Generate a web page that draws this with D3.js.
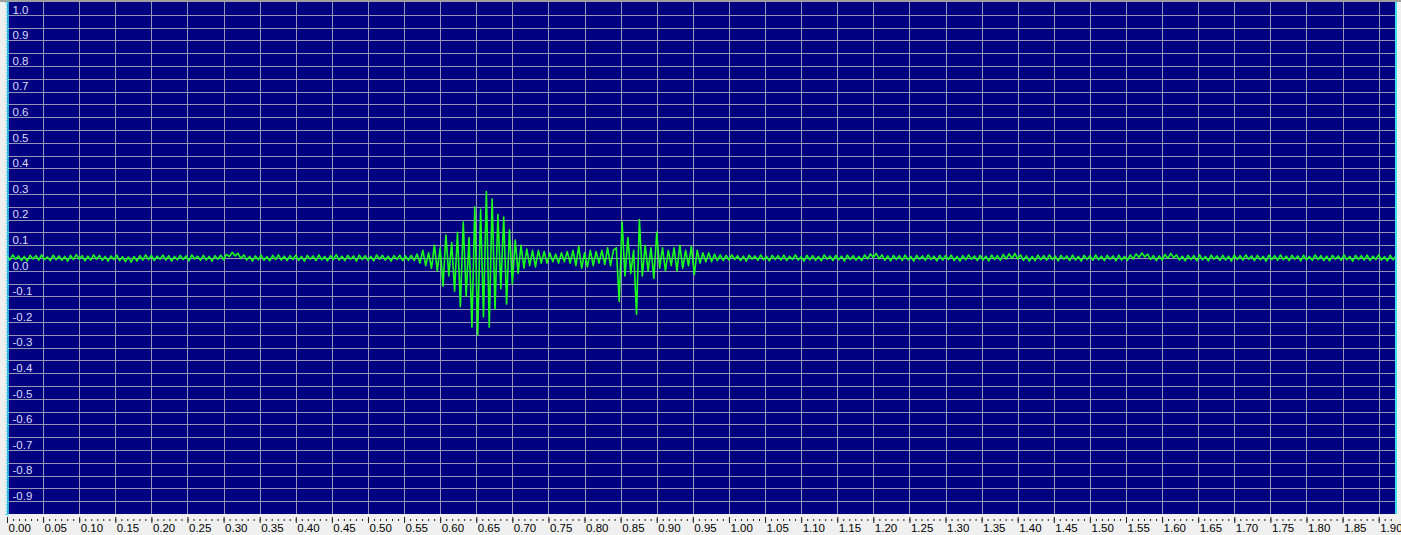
<!DOCTYPE html>
<html>
<head>
<meta charset="utf-8">
<script src="https://cdn.jsdelivr.net/npm/d3@7"></script>
<style>
  html, body { margin: 0; padding: 0; background: #f0f0f0; overflow: hidden; }
  svg { display: block; font-family: "Liberation Sans", Arial, sans-serif; }
</style>
</head>
<body>
<svg width="1401" height="535"></svg>
<script>
// waveform samples, one every sampleStep seconds, starting at t = 0
var sampleStep = 0.004;
var samples = [
  0.01,-0.008,0.012,-0.005,0.008,-0.01,0.006,-0.012,0.01,-0.004,0.009,-0.008,0.012,-0.006,0.004,-0.01,0.011,-0.007,0.008,-0.009,
  0.006,-0.012,0.01,-0.006,0.013,-0.004,0.009,-0.011,0.007,-0.008,0.012,-0.005,0.01,-0.009,0.006,-0.012,0.008,-0.006,0.011,-0.01,
  0.005,-0.014,0.004,-0.016,0.006,-0.012,0.009,-0.008,0.012,-0.006,0.01,-0.01,0.007,-0.005,0.011,-0.008,0.009,-0.012,0.006,-0.007,
  0.01,-0.006,0.008,-0.011,0.012,-0.004,0.007,-0.009,0.01,-0.008,0.006,-0.012,0.009,-0.005,0.011,-0.007,0.014,0.005,0.022,0.008,
  0.018,-0.002,0.012,-0.008,0.006,-0.012,0.008,-0.007,0.011,-0.009,0.005,-0.011,0.01,-0.006,0.012,-0.008,0.007,-0.01,0.009,-0.006,
  0.011,-0.009,0.006,-0.012,0.01,-0.005,0.008,-0.01,0.012,-0.007,0.006,-0.011,0.009,-0.006,0.013,-0.008,0.007,-0.01,0.01,-0.005,
  0.008,-0.012,0.011,-0.006,0.009,-0.009,0.006,-0.011,0.012,-0.005,0.01,-0.008,0.007,-0.012,0.009,-0.006,0.011,-0.01,0.008,-0.009,
  // first burst
  0.01,-0.01,0.015,-0.02,0.03,-0.03,0.02,-0.04,0.05,-0.05,0.04,-0.11,0.09,-0.07,0.06,-0.13,0.10,-0.19,0.14,-0.15,
  0.08,-0.27,0.20,-0.30,0.19,-0.23,0.26,-0.27,0.23,-0.20,0.17,-0.12,0.16,-0.18,0.11,-0.10,0.07,-0.06,0.05,-0.04,
  0.035,-0.03,0.03,-0.035,0.03,-0.02,0.025,-0.02,0.02,-0.015,0.015,
  // between bursts and second burst
  -0.02,0.02,-0.015,0.025,-0.02,0.03,-0.03,0.045,-0.04,0.02,-0.035,0.03,-0.03,0.025,-0.02,0.03,-0.025,0.04,-0.03,0.03,
  0.04,-0.17,0.14,-0.07,0.08,-0.06,0.03,-0.22,0.15,-0.07,0.05,-0.05,0.04,-0.08,0.10,-0.04,0.04,-0.05,0.03,-0.03,
  0.04,-0.05,0.05,-0.04,0.03,-0.03,0.045,-0.065,0.03,-0.02,0.02,-0.015,0.02,-0.015,0.015,-0.01,0.012,-0.01,
  // quiet tail
  0.01,-0.008,0.012,-0.006,0.009,-0.01,0.007,-0.012,0.011,-0.005,0.008,-0.009,0.012,-0.007,0.006,-0.011,0.01,-0.006,0.009,-0.008,
  0.011,-0.01,0.007,-0.006,0.012,-0.008,0.005,-0.012,0.01,-0.007,0.009,-0.009,0.006,-0.011,0.012,-0.005,0.008,-0.01,0.01,-0.007,
  0.007,-0.012,0.011,-0.006,0.009,-0.008,0.006,-0.01,0.012,-0.004,0.016,0.002,0.018,-0.003,0.012,-0.009,0.008,-0.011,0.01,-0.006,
  0.009,-0.01,0.011,-0.007,0.006,-0.012,0.01,-0.005,0.008,-0.009,0.012,-0.006,0.007,-0.011,0.01,-0.008,0.009,-0.006,0.011,-0.01,
  0.006,-0.012,0.009,-0.007,0.012,-0.005,0.008,-0.01,0.01,-0.008,0.007,-0.011,0.011,-0.006,0.009,-0.009,0.014,-0.004,0.016,-0.002,
  0.018,-0.004,0.012,-0.009,0.008,-0.012,0.006,-0.01,0.011,-0.007,0.009,-0.008,0.012,-0.006,0.007,-0.011,0.01,-0.005,0.008,-0.01,
  0.011,-0.008,0.006,-0.012,0.01,-0.006,0.009,-0.009,0.012,-0.007,0.007,-0.01,0.01,-0.005,0.008,-0.011,0.011,-0.008,0.006,-0.009,
  0.012,-0.004,0.016,0.002,0.02,0.004,0.015,-0.006,0.009,-0.01,0.008,-0.008,0.014,-0.002,0.018,0.001,0.012,-0.008,0.007,-0.011,
  0.01,-0.006,0.009,-0.01,0.012,-0.007,0.006,-0.011,0.011,-0.005,0.008,-0.009,0.01,-0.008,0.007,-0.012,0.011,-0.006,0.009,-0.008,
  0.012,-0.005,0.008,-0.01,0.01,-0.007,0.006,-0.012,0.011,-0.006,0.009,-0.009,0.012,-0.007,0.007,-0.01,0.01,-0.005,0.008,-0.011,
  0.011,-0.008,0.006,-0.009,0.012,-0.006,0.009,-0.01,0.007,-0.011,0.01,-0.005,0.008,-0.009,0.012,-0.007,0.006,-0.012,0.01,-0.006,
  0.009,-0.008,0.011,-0.01,0.007,-0.006,0.012,-0.008,0.005,-0.011,0.01,-0.007,0.008
];

var xTickLabels = ["0.00","0.05","0.10","0.15","0.20","0.25","0.30","0.35","0.40","0.45",
  "0.50","0.55","0.60","0.65","0.70","0.75","0.80","0.85","0.90","0.95",
  "1.00","1.05","1.10","1.15","1.20","1.25","1.30","1.35","1.40","1.45",
  "1.50","1.55","1.60","1.65","1.70","1.75","1.80","1.85","1.90"];
var yTickLabels = ["1.0","0.9","0.8","0.7","0.6","0.5","0.4","0.3","0.2","0.1","0.0",
  "-0.1","-0.2","-0.3","-0.4","-0.5","-0.6","-0.7","-0.8","-0.9"];

var timeDomain = [0, 1.924];
var ampDomain = [-1, 1];
var gridStep = 0.05;

var svg = d3.select("svg"),
    plot = { left: 7, right: 1396, top: 2, bottom: 514 };

var x = d3.scaleLinear().domain(timeDomain).range([plot.left, plot.right]);
var y = d3.scaleLinear().domain(ampDomain).range([plot.bottom, plot.top]);

// top border strip
svg.append("rect")
    .attr("x", 0).attr("y", 0)
    .attr("width", 1401).attr("height", plot.top)
    .attr("fill", "#a0a0a0");

svg.append("rect")
    .attr("x", plot.left).attr("y", plot.top)
    .attr("width", plot.right - plot.left)
    .attr("height", plot.bottom - plot.top)
    .attr("fill", "#000080");

// grid every 0.05 both ways
var vGrid = d3.range(gridStep, timeDomain[1], gridStep);
var hGrid = d3.range(ampDomain[0] + gridStep, ampDomain[1] - 1e-9, gridStep);

svg.append("g")
    .attr("stroke", "#9696b4")
    .attr("stroke-width", 1)
    .selectAll("line")
    .data(vGrid)
    .enter().append("line")
    .attr("x1", function (d) { return Math.round(x(d)) + 0.5; })
    .attr("x2", function (d) { return Math.round(x(d)) + 0.5; })
    .attr("y1", plot.top)
    .attr("y2", plot.bottom);

svg.append("g")
    .attr("stroke", "#9696b4")
    .attr("stroke-width", 1)
    .selectAll("line")
    .data(hGrid)
    .enter().append("line")
    .attr("x1", plot.left)
    .attr("x2", plot.right)
    .attr("y1", function (d) { return Math.round(y(d)) + 0.5; })
    .attr("y2", function (d) { return Math.round(y(d)) + 0.5; });

// amplitude labels sit just under their grid line
svg.append("g")
    .selectAll("text")
    .data(yTickLabels)
    .enter().append("text")
    .attr("x", 12.5)
    .attr("y", function (d) { return y(+d) + 11.5; })
    .attr("fill", "#dcdcf8")
    .style("font-size", "11.5px")
    .text(function (d) { return d; });

// waveform
var wave = d3.line()
    .x(function (d, i) { return x(i * sampleStep); })
    .y(function (d) { return y(d); });

svg.append("path")
    .datum(samples)
    .attr("fill", "none")
    .attr("stroke", "#1cff1c")
    .attr("stroke-width", 1.6)
    .attr("stroke-linejoin", "round")
    .attr("d", wave);

// cyan side rulers
var leftAxis = d3.axisLeft(y)
    .tickValues(d3.range(ampDomain[0], ampDomain[1] + 1e-9, 0.0125))
    .tickSize(2)
    .tickFormat("");
svg.append("g")
    .attr("transform", "translate(" + (plot.left + 0.5) + ",0)")
    .call(leftAxis)
    .call(function (g) {
        g.select(".domain").attr("stroke", "#40e0f0").attr("stroke-width", 1.5);
        g.selectAll(".tick line").attr("stroke", "#40e0f0");
    });

svg.append("line")
    .attr("x1", plot.right).attr("x2", plot.right)
    .attr("y1", plot.top).attr("y2", plot.bottom)
    .attr("stroke", "#40e0f0")
    .attr("stroke-width", 2);

// time axis below the plot
var minorAxis = d3.axisBottom(x)
    .tickValues(d3.range(0, timeDomain[1], gridStep / 6))
    .tickSize(2)
    .tickFormat("");
svg.append("g")
    .attr("transform", "translate(0," + (plot.bottom + 5) + ")")
    .call(minorAxis)
    .call(function (g) {
        g.select(".domain").remove();
        g.selectAll(".tick line").attr("stroke", "#202020");
    });

var xAxis = d3.axisBottom(x)
    .tickValues(xTickLabels.map(function (d) { return +d; }))
    .tickSize(6)
    .tickFormat(function (d, i) { return xTickLabels[i]; });
svg.append("g")
    .attr("transform", "translate(0," + (plot.bottom + 3) + ")")
    .call(xAxis)
    .call(function (g) {
        g.select(".domain").remove();
        g.selectAll(".tick line").attr("stroke", "#202020");
        g.selectAll(".tick text")
            .attr("text-anchor", "start")
            .attr("x", 1)
            .attr("y", 15)
            .attr("dy", 0)
            .attr("fill", "#000")
            .style("font-size", "11.5px")
            .style("font-family", "Liberation Sans, Arial, sans-serif");
    });
</script>
</body>
</html>
